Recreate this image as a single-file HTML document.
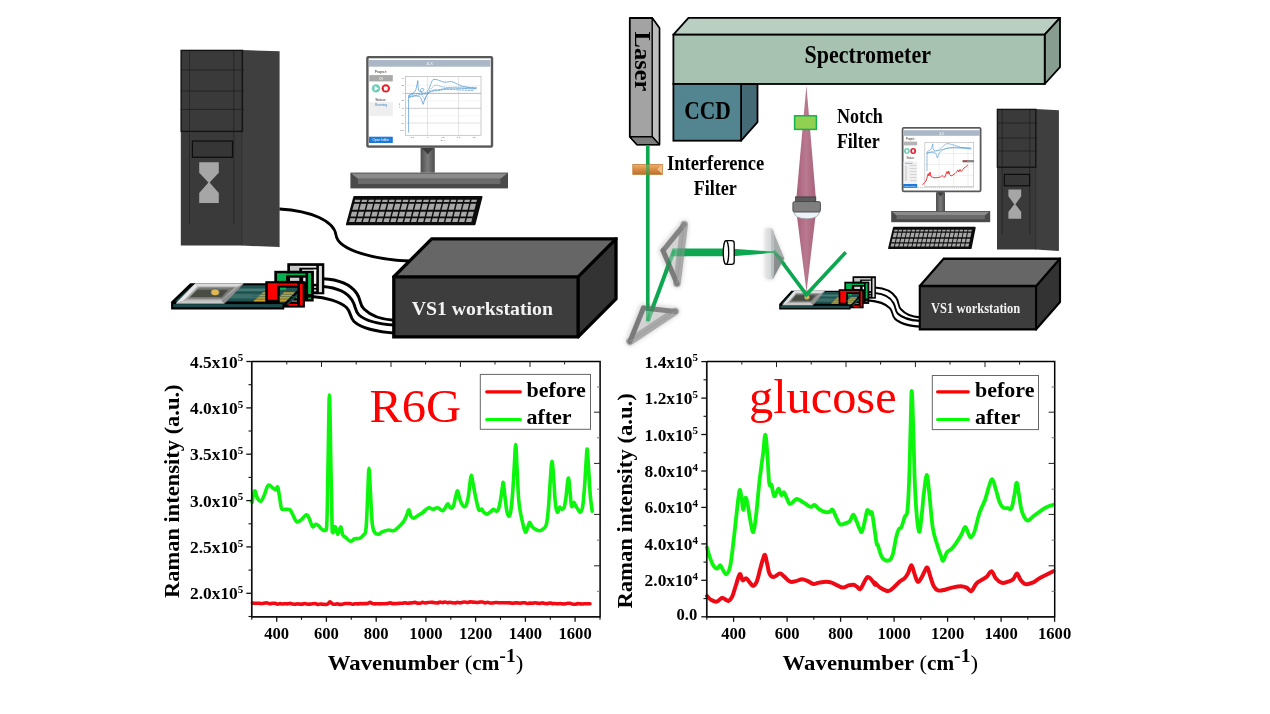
<!DOCTYPE html>
<html lang="en">
<head>
<meta charset="utf-8">
<title>SERS setup and Raman spectra</title>
<style>
html,body{margin:0;padding:0;background:#fff;}
body{width:1270px;height:714px;overflow:hidden;}
svg{display:block;}
text{font-family:"Liberation Serif","Times New Roman",serif;}
.bd{font-weight:bold;fill:#000;}
.tk{font-weight:bold;fill:#000;font-size:16.6px;}
.rg{font-weight:normal;}
.ui{font-family:"Liberation Sans",Arial,sans-serif;}
</style>
</head>
<body>
<svg width="1270" height="714" viewBox="0 0 1270 714">
<rect width="1270" height="714" fill="#ffffff"/>
<!--TOP-->
<defs>
<linearGradient id="gBase" x1="0" y1="0" x2="0" y2="1"><stop offset="0" stop-color="#8a8a8a"/><stop offset="0.45" stop-color="#6e6e6e"/><stop offset="1" stop-color="#4a4a4a"/></linearGradient>
<linearGradient id="gNeck" x1="0" y1="0" x2="1" y2="0"><stop offset="0" stop-color="#4d4d4d"/><stop offset="0.5" stop-color="#7a7a7a"/><stop offset="1" stop-color="#4d4d4d"/></linearGradient>
<linearGradient id="gMir" x1="0" y1="0" x2="1" y2="1"><stop offset="0" stop-color="#8c8c8c"/><stop offset="0.5" stop-color="#c9c9c9"/><stop offset="1" stop-color="#7a7a7a"/></linearGradient>
<linearGradient id="gMir3" x1="0" y1="0" x2="1" y2="0"><stop offset="0" stop-color="#e6e8e8"/><stop offset="0.35" stop-color="#d2d5d5"/><stop offset="1" stop-color="#b0b4b4"/></linearGradient>
<linearGradient id="gOr" x1="0" y1="0" x2="0" y2="1"><stop offset="0" stop-color="#f0b070"/><stop offset="0.5" stop-color="#d98c45"/><stop offset="1" stop-color="#b86f2e"/></linearGradient>
<linearGradient id="gObj" x1="0" y1="0" x2="1" y2="0"><stop offset="0" stop-color="#6a6a6a"/><stop offset="0.5" stop-color="#8f8f8f"/><stop offset="1" stop-color="#5c5c5c"/></linearGradient>
<linearGradient id="gPink" x1="0" y1="0" x2="1" y2="0"><stop offset="0" stop-color="#a9607c"/><stop offset="0.5" stop-color="#b9798f"/><stop offset="1" stop-color="#a9607c"/></linearGradient>
<filter id="blur05" x="-20%" y="-20%" width="140%" height="140%"><feGaussianBlur stdDeviation="0.55"/></filter>
<filter id="blur2" x="-30%" y="-30%" width="160%" height="160%"><feGaussianBlur stdDeviation="2.2"/></filter>
</defs>
<polygon points="180.8,50.0 242.2,50.0 242.2,245.6 180.8,245.6" fill="#3a3a3a"/>
<polygon points="242.2,50.0 279.6,51.3 279.6,247.1 242.2,245.6" fill="#3f3f3f"/>
<line x1="242.2" y1="50.0" x2="242.2" y2="245.6" stroke="#262626" stroke-width="0.9"/>
<line x1="189.5" y1="50.0" x2="189.5" y2="224.2" stroke="#222" stroke-width="0.8"/>
<line x1="233.8" y1="50.0" x2="233.8" y2="224.2" stroke="#222" stroke-width="0.8"/>
<rect x="181.2" y="50.4" width="61.2" height="81.0" fill="none" stroke="#151515" stroke-width="1.4"/>
<line x1="180.8" y1="70.0" x2="244.2" y2="70.0" stroke="#222" stroke-width="0.9"/>
<line x1="180.8" y1="91.0" x2="244.2" y2="91.0" stroke="#222" stroke-width="0.9"/>
<line x1="180.8" y1="109.4" x2="244.2" y2="109.4" stroke="#222" stroke-width="0.9"/>
<rect x="192.4" y="141.0" width="40.1" height="16.3" fill="#363636" stroke="#0d0d0d" stroke-width="1.2"/>
<polygon points="199.2,162.3 218.8,162.3 218.8,172.8 209.6,182.6 218.8,192.9 218.8,202.9 199.2,202.9 199.2,192.9 208.4,182.6 199.2,172.8" fill="#a6a6a6"/>
<polygon points="997.0,109.0 1035.6,109.0 1035.6,249.6 997.0,249.6" fill="#3a3a3a"/>
<polygon points="1035.6,109.0 1058.9,110.3 1058.9,251.1 1035.6,249.6" fill="#3f3f3f"/>
<line x1="1035.6" y1="109.0" x2="1035.6" y2="249.6" stroke="#262626" stroke-width="0.9"/>
<line x1="1002.2" y1="109.0" x2="1002.2" y2="234.4" stroke="#222" stroke-width="0.8"/>
<line x1="1029.8" y1="109.0" x2="1029.8" y2="234.4" stroke="#222" stroke-width="0.8"/>
<rect x="997.4" y="109.4" width="38.4" height="57.8" fill="none" stroke="#151515" stroke-width="1.4"/>
<line x1="997.0" y1="123.0" x2="1037.6" y2="123.0" stroke="#222" stroke-width="0.9"/>
<line x1="997.0" y1="138.0" x2="1037.6" y2="138.0" stroke="#222" stroke-width="0.9"/>
<line x1="997.0" y1="151.0" x2="1037.6" y2="151.0" stroke="#222" stroke-width="0.9"/>
<rect x="1004.4" y="174.4" width="25.2" height="11.4" fill="#363636" stroke="#0d0d0d" stroke-width="1.2"/>
<polygon points="1008.4,189.6 1021.2,189.6 1021.2,196.3 1015.4,204.2 1021.2,212.0 1021.2,218.8 1008.4,218.8 1008.4,212.0 1014.2,204.2 1008.4,196.3" fill="#a6a6a6"/>
<path d="M279.5,209 C312,211 334,221 336,235 C338,251 378,260 410,261" fill="none" stroke="#000" stroke-width="2.8"/>
<rect x="366.2" y="55.9" width="127.0" height="91.9" rx="2.2" fill="#585858"/>
<rect x="368.6" y="58.3" width="122.2" height="87.1" fill="#ffffff"/>
<rect x="420.6" y="147.8" width="14.2" height="24.8" fill="url(#gNeck)"/>
<polygon points="421.6,147.8 433.8,147.8 427.7,154.2" fill="#3c3c3c"/>
<rect x="350.4" y="172.6" width="157.6" height="15.8" fill="#4a4a4a"/>
<polygon points="351.2,173.4 507.2,173.4 500.4,178.8 358.0,178.8" fill="#8b8b8b"/>
<polygon points="358.0,178.8 500.4,178.8 500.4,184.1 358.0,184.1" fill="#6a6a6a"/>
<polygon points="354.2,197.0 481.6,197.0 474.6,224.4 346.8,224.4" fill="#0c0c0c" stroke="#0c0c0c" stroke-width="1.8" stroke-linejoin="round"/>
<polygon points="355.1,199.7 360.5,199.7 359.8,202.1 354.5,202.1" fill="#a6a6a6"/>
<polygon points="362.0,199.7 367.3,199.7 366.7,202.1 361.3,202.1" fill="#a6a6a6"/>
<polygon points="368.9,199.7 374.2,199.7 373.5,202.1 368.2,202.1" fill="#a6a6a6"/>
<polygon points="375.7,199.7 381.1,199.7 380.4,202.1 375.1,202.1" fill="#a6a6a6"/>
<polygon points="382.6,199.7 387.9,199.7 387.3,202.1 381.9,202.1" fill="#a6a6a6"/>
<polygon points="389.4,199.7 394.8,199.7 394.1,202.1 388.8,202.1" fill="#a6a6a6"/>
<polygon points="396.3,199.7 401.6,199.7 401.0,202.1 395.6,202.1" fill="#a6a6a6"/>
<polygon points="403.1,199.7 408.5,199.7 407.8,202.1 402.5,202.1" fill="#a6a6a6"/>
<polygon points="410.0,199.7 415.3,199.7 414.7,202.1 409.3,202.1" fill="#a6a6a6"/>
<polygon points="416.8,199.7 422.2,199.7 421.5,202.1 416.2,202.1" fill="#a6a6a6"/>
<polygon points="423.7,199.7 429.0,199.7 428.4,202.1 423.0,202.1" fill="#a6a6a6"/>
<polygon points="430.5,199.7 435.9,199.7 435.2,202.1 429.9,202.1" fill="#a6a6a6"/>
<polygon points="437.4,199.7 442.7,199.7 442.1,202.1 436.8,202.1" fill="#a6a6a6"/>
<polygon points="444.2,199.7 449.6,199.7 449.0,202.1 443.6,202.1" fill="#a6a6a6"/>
<polygon points="451.1,199.7 456.4,199.7 455.8,202.1 450.5,202.1" fill="#a6a6a6"/>
<polygon points="457.9,199.7 463.3,199.7 462.7,202.1 457.3,202.1" fill="#a6a6a6"/>
<polygon points="464.8,199.7 470.1,199.7 469.5,202.1 464.2,202.1" fill="#a6a6a6"/>
<polygon points="471.7,199.7 477.0,199.7 476.4,202.1 471.0,202.1" fill="#a6a6a6"/>
<polygon points="354.1,203.7 359.4,203.7 357.8,209.7 352.4,209.7" fill="#a6a6a6"/>
<polygon points="360.9,203.7 366.3,203.7 364.7,209.7 359.3,209.7" fill="#a6a6a6"/>
<polygon points="367.8,203.7 373.1,203.7 371.5,209.7 366.2,209.7" fill="#a6a6a6"/>
<polygon points="374.6,203.7 380.0,203.7 378.4,209.7 373.0,209.7" fill="#a6a6a6"/>
<polygon points="381.5,203.7 386.8,203.7 385.2,209.7 379.9,209.7" fill="#a6a6a6"/>
<polygon points="388.3,203.7 393.7,203.7 392.1,209.7 386.8,209.7" fill="#a6a6a6"/>
<polygon points="395.2,203.7 400.5,203.7 399.0,209.7 393.6,209.7" fill="#a6a6a6"/>
<polygon points="402.1,203.7 407.4,203.7 405.8,209.7 400.5,209.7" fill="#a6a6a6"/>
<polygon points="408.9,203.7 414.3,203.7 412.7,209.7 407.3,209.7" fill="#a6a6a6"/>
<polygon points="415.8,203.7 421.1,203.7 419.6,209.7 414.2,209.7" fill="#a6a6a6"/>
<polygon points="422.6,203.7 428.0,203.7 426.4,209.7 421.1,209.7" fill="#a6a6a6"/>
<polygon points="429.5,203.7 434.8,203.7 433.3,209.7 427.9,209.7" fill="#a6a6a6"/>
<polygon points="436.3,203.7 441.7,203.7 440.1,209.7 434.8,209.7" fill="#a6a6a6"/>
<polygon points="443.2,203.7 448.5,203.7 447.0,209.7 441.6,209.7" fill="#a6a6a6"/>
<polygon points="450.0,203.7 455.4,203.7 453.9,209.7 448.5,209.7" fill="#a6a6a6"/>
<polygon points="456.9,203.7 462.3,203.7 460.7,209.7 455.4,209.7" fill="#a6a6a6"/>
<polygon points="463.8,203.7 469.1,203.7 467.6,209.7 462.2,209.7" fill="#a6a6a6"/>
<polygon points="470.6,203.7 476.0,203.7 474.4,209.7 469.1,209.7" fill="#a6a6a6"/>
<polygon points="351.9,211.7 357.2,211.7 356.0,216.4 350.6,216.4" fill="#a6a6a6"/>
<polygon points="358.8,211.7 364.1,211.7 362.9,216.4 357.5,216.4" fill="#a6a6a6"/>
<polygon points="365.6,211.7 371.0,211.7 369.7,216.4 364.4,216.4" fill="#a6a6a6"/>
<polygon points="372.5,211.7 377.8,211.7 376.6,216.4 371.2,216.4" fill="#a6a6a6"/>
<polygon points="379.3,211.7 384.7,211.7 383.5,216.4 378.1,216.4" fill="#a6a6a6"/>
<polygon points="386.2,211.7 391.6,211.7 390.3,216.4 385.0,216.4" fill="#a6a6a6"/>
<polygon points="393.1,211.7 398.4,211.7 397.2,216.4 391.8,216.4" fill="#a6a6a6"/>
<polygon points="399.9,211.7 405.3,211.7 404.1,216.4 398.7,216.4" fill="#a6a6a6"/>
<polygon points="406.8,211.7 412.1,211.7 410.9,216.4 405.6,216.4" fill="#a6a6a6"/>
<polygon points="413.7,211.7 419.0,211.7 417.8,216.4 412.4,216.4" fill="#a6a6a6"/>
<polygon points="420.5,211.7 425.9,211.7 424.7,216.4 419.3,216.4" fill="#a6a6a6"/>
<polygon points="427.4,211.7 432.7,211.7 431.5,216.4 426.2,216.4" fill="#a6a6a6"/>
<polygon points="434.2,211.7 439.6,211.7 438.4,216.4 433.0,216.4" fill="#a6a6a6"/>
<polygon points="441.1,211.7 446.5,211.7 445.3,216.4 439.9,216.4" fill="#a6a6a6"/>
<polygon points="448.0,211.7 453.3,211.7 452.1,216.4 446.8,216.4" fill="#a6a6a6"/>
<polygon points="454.8,211.7 460.2,211.7 459.0,216.4 453.6,216.4" fill="#a6a6a6"/>
<polygon points="461.7,211.7 467.0,211.7 465.9,216.4 460.5,216.4" fill="#a6a6a6"/>
<polygon points="468.6,211.7 473.9,211.7 472.7,216.4 467.4,216.4" fill="#a6a6a6"/>
<polygon points="350.2,218.2 355.5,218.2 354.4,222.1 349.1,222.1" fill="#a6a6a6"/>
<polygon points="357.0,218.2 362.4,218.2 361.3,222.1 356.0,222.1" fill="#a6a6a6"/>
<polygon points="363.9,218.2 369.2,218.2 368.2,222.1 362.8,222.1" fill="#a6a6a6"/>
<polygon points="370.8,218.2 376.1,218.2 375.1,222.1 369.7,222.1" fill="#a6a6a6"/>
<polygon points="377.6,218.2 383.0,218.2 381.9,222.1 376.6,222.1" fill="#a6a6a6"/>
<polygon points="384.5,218.2 389.9,218.2 388.8,222.1 383.4,222.1" fill="#a6a6a6"/>
<polygon points="391.4,218.2 396.7,218.2 395.7,222.1 390.3,222.1" fill="#a6a6a6"/>
<polygon points="398.2,218.2 403.6,218.2 402.5,222.1 397.2,222.1" fill="#a6a6a6"/>
<polygon points="405.1,218.2 410.5,218.2 409.4,222.1 404.1,222.1" fill="#a6a6a6"/>
<polygon points="412.0,218.2 417.3,218.2 416.3,222.1 410.9,222.1" fill="#a6a6a6"/>
<polygon points="418.8,218.2 424.2,218.2 423.2,222.1 417.8,222.1" fill="#a6a6a6"/>
<polygon points="425.7,218.2 431.1,218.2 430.0,222.1 424.7,222.1" fill="#a6a6a6"/>
<polygon points="432.6,218.2 437.9,218.2 436.9,222.1 431.5,222.1" fill="#a6a6a6"/>
<polygon points="439.4,218.2 444.8,218.2 443.8,222.1 438.4,222.1" fill="#a6a6a6"/>
<polygon points="446.3,218.2 451.7,218.2 450.6,222.1 445.3,222.1" fill="#a6a6a6"/>
<polygon points="453.2,218.2 458.5,218.2 457.5,222.1 452.2,222.1" fill="#a6a6a6"/>
<polygon points="460.0,218.2 465.4,218.2 464.4,222.1 459.0,222.1" fill="#a6a6a6"/>
<polygon points="466.9,218.2 472.3,218.2 471.3,222.1 465.9,222.1" fill="#a6a6a6"/>
<rect x="901.7" y="126.9" width="79.8" height="65.4" rx="2.2" fill="#585858"/>
<rect x="903.5" y="128.7" width="76.2" height="61.8" fill="#ffffff"/>
<rect x="936.0" y="192.3" width="9.0" height="18.7" fill="url(#gNeck)"/>
<polygon points="937.0,192.3 944.0,192.3 940.5,196.4" fill="#3c3c3c"/>
<rect x="891.2" y="211.0" width="99.0" height="11.2" fill="#4a4a4a"/>
<polygon points="892.0,211.8 989.4,211.8 984.8,215.4 896.6,215.4" fill="#8b8b8b"/>
<polygon points="896.6,215.4 984.8,215.4 984.8,219.2 896.6,219.2" fill="#6a6a6a"/>
<polygon points="893.9,227.7 974.8,227.7 970.7,248.2 889.0,248.2" fill="#0c0c0c" stroke="#0c0c0c" stroke-width="1.8" stroke-linejoin="round"/>
<polygon points="894.5,229.7 897.9,229.7 897.4,231.5 894.0,231.5" fill="#a6a6a6"/>
<polygon points="898.8,229.7 902.2,229.7 901.8,231.5 898.4,231.5" fill="#a6a6a6"/>
<polygon points="903.2,229.7 906.6,229.7 906.2,231.5 902.8,231.5" fill="#a6a6a6"/>
<polygon points="907.5,229.7 910.9,229.7 910.5,231.5 907.1,231.5" fill="#a6a6a6"/>
<polygon points="911.9,229.7 915.3,229.7 914.9,231.5 911.5,231.5" fill="#a6a6a6"/>
<polygon points="916.3,229.7 919.7,229.7 919.2,231.5 915.8,231.5" fill="#a6a6a6"/>
<polygon points="920.6,229.7 924.0,229.7 923.6,231.5 920.2,231.5" fill="#a6a6a6"/>
<polygon points="925.0,229.7 928.4,229.7 928.0,231.5 924.6,231.5" fill="#a6a6a6"/>
<polygon points="929.3,229.7 932.7,229.7 932.3,231.5 928.9,231.5" fill="#a6a6a6"/>
<polygon points="933.7,229.7 937.1,229.7 936.7,231.5 933.3,231.5" fill="#a6a6a6"/>
<polygon points="938.0,229.7 941.4,229.7 941.0,231.5 937.6,231.5" fill="#a6a6a6"/>
<polygon points="942.4,229.7 945.8,229.7 945.4,231.5 942.0,231.5" fill="#a6a6a6"/>
<polygon points="946.7,229.7 950.1,229.7 949.8,231.5 946.4,231.5" fill="#a6a6a6"/>
<polygon points="951.1,229.7 954.5,229.7 954.1,231.5 950.7,231.5" fill="#a6a6a6"/>
<polygon points="955.5,229.7 958.8,229.7 958.5,231.5 955.1,231.5" fill="#a6a6a6"/>
<polygon points="959.8,229.7 963.2,229.7 962.8,231.5 959.4,231.5" fill="#a6a6a6"/>
<polygon points="964.2,229.7 967.6,229.7 967.2,231.5 963.8,231.5" fill="#a6a6a6"/>
<polygon points="968.5,229.7 971.9,229.7 971.5,231.5 968.1,231.5" fill="#a6a6a6"/>
<polygon points="893.8,232.7 897.2,232.7 896.1,237.2 892.7,237.2" fill="#a6a6a6"/>
<polygon points="898.1,232.7 901.5,232.7 900.5,237.2 897.1,237.2" fill="#a6a6a6"/>
<polygon points="902.5,232.7 905.9,232.7 904.8,237.2 901.4,237.2" fill="#a6a6a6"/>
<polygon points="906.8,232.7 910.2,232.7 909.2,237.2 905.8,237.2" fill="#a6a6a6"/>
<polygon points="911.2,232.7 914.6,232.7 913.6,237.2 910.2,237.2" fill="#a6a6a6"/>
<polygon points="915.6,232.7 919.0,232.7 918.0,237.2 914.6,237.2" fill="#a6a6a6"/>
<polygon points="919.9,232.7 923.3,232.7 922.3,237.2 918.9,237.2" fill="#a6a6a6"/>
<polygon points="924.3,232.7 927.7,232.7 926.7,237.2 923.3,237.2" fill="#a6a6a6"/>
<polygon points="928.6,232.7 932.1,232.7 931.1,237.2 927.7,237.2" fill="#a6a6a6"/>
<polygon points="933.0,232.7 936.4,232.7 935.4,237.2 932.0,237.2" fill="#a6a6a6"/>
<polygon points="937.4,232.7 940.8,232.7 939.8,237.2 936.4,237.2" fill="#a6a6a6"/>
<polygon points="941.7,232.7 945.1,232.7 944.2,237.2 940.8,237.2" fill="#a6a6a6"/>
<polygon points="946.1,232.7 949.5,232.7 948.6,237.2 945.1,237.2" fill="#a6a6a6"/>
<polygon points="950.5,232.7 953.9,232.7 952.9,237.2 949.5,237.2" fill="#a6a6a6"/>
<polygon points="954.8,232.7 958.2,232.7 957.3,237.2 953.9,237.2" fill="#a6a6a6"/>
<polygon points="959.2,232.7 962.6,232.7 961.7,237.2 958.3,237.2" fill="#a6a6a6"/>
<polygon points="963.5,232.7 966.9,232.7 966.0,237.2 962.6,237.2" fill="#a6a6a6"/>
<polygon points="967.9,232.7 971.3,232.7 970.4,237.2 967.0,237.2" fill="#a6a6a6"/>
<polygon points="892.3,238.7 895.7,238.7 894.9,242.2 891.5,242.2" fill="#a6a6a6"/>
<polygon points="896.7,238.7 900.1,238.7 899.3,242.2 895.9,242.2" fill="#a6a6a6"/>
<polygon points="901.1,238.7 904.5,238.7 903.7,242.2 900.3,242.2" fill="#a6a6a6"/>
<polygon points="905.4,238.7 908.9,238.7 908.1,242.2 904.6,242.2" fill="#a6a6a6"/>
<polygon points="909.8,238.7 913.2,238.7 912.4,242.2 909.0,242.2" fill="#a6a6a6"/>
<polygon points="914.2,238.7 917.6,238.7 916.8,242.2 913.4,242.2" fill="#a6a6a6"/>
<polygon points="918.6,238.7 922.0,238.7 921.2,242.2 917.8,242.2" fill="#a6a6a6"/>
<polygon points="922.9,238.7 926.4,238.7 925.6,242.2 922.2,242.2" fill="#a6a6a6"/>
<polygon points="927.3,238.7 930.7,238.7 930.0,242.2 926.5,242.2" fill="#a6a6a6"/>
<polygon points="931.7,238.7 935.1,238.7 934.3,242.2 930.9,242.2" fill="#a6a6a6"/>
<polygon points="936.1,238.7 939.5,238.7 938.7,242.2 935.3,242.2" fill="#a6a6a6"/>
<polygon points="940.4,238.7 943.9,238.7 943.1,242.2 939.7,242.2" fill="#a6a6a6"/>
<polygon points="944.8,238.7 948.2,238.7 947.5,242.2 944.1,242.2" fill="#a6a6a6"/>
<polygon points="949.2,238.7 952.6,238.7 951.9,242.2 948.5,242.2" fill="#a6a6a6"/>
<polygon points="953.6,238.7 957.0,238.7 956.3,242.2 952.8,242.2" fill="#a6a6a6"/>
<polygon points="957.9,238.7 961.3,238.7 960.6,242.2 957.2,242.2" fill="#a6a6a6"/>
<polygon points="962.3,238.7 965.7,238.7 965.0,242.2 961.6,242.2" fill="#a6a6a6"/>
<polygon points="966.7,238.7 970.1,238.7 969.4,242.2 966.0,242.2" fill="#a6a6a6"/>
<polygon points="891.2,243.5 894.6,243.5 893.9,246.5 890.5,246.5" fill="#a6a6a6"/>
<polygon points="895.6,243.5 899.0,243.5 898.3,246.5 894.9,246.5" fill="#a6a6a6"/>
<polygon points="900.0,243.5 903.4,243.5 902.7,246.5 899.3,246.5" fill="#a6a6a6"/>
<polygon points="904.3,243.5 907.8,243.5 907.1,246.5 903.6,246.5" fill="#a6a6a6"/>
<polygon points="908.7,243.5 912.1,243.5 911.5,246.5 908.0,246.5" fill="#a6a6a6"/>
<polygon points="913.1,243.5 916.5,243.5 915.8,246.5 912.4,246.5" fill="#a6a6a6"/>
<polygon points="917.5,243.5 920.9,243.5 920.2,246.5 916.8,246.5" fill="#a6a6a6"/>
<polygon points="921.9,243.5 925.3,243.5 924.6,246.5 921.2,246.5" fill="#a6a6a6"/>
<polygon points="926.3,243.5 929.7,243.5 929.0,246.5 925.6,246.5" fill="#a6a6a6"/>
<polygon points="930.6,243.5 934.1,243.5 933.4,246.5 930.0,246.5" fill="#a6a6a6"/>
<polygon points="935.0,243.5 938.4,243.5 937.8,246.5 934.4,246.5" fill="#a6a6a6"/>
<polygon points="939.4,243.5 942.8,243.5 942.2,246.5 938.8,246.5" fill="#a6a6a6"/>
<polygon points="943.8,243.5 947.2,243.5 946.6,246.5 943.2,246.5" fill="#a6a6a6"/>
<polygon points="948.2,243.5 951.6,243.5 951.0,246.5 947.5,246.5" fill="#a6a6a6"/>
<polygon points="952.6,243.5 956.0,243.5 955.4,246.5 951.9,246.5" fill="#a6a6a6"/>
<polygon points="956.9,243.5 960.4,243.5 959.7,246.5 956.3,246.5" fill="#a6a6a6"/>
<polygon points="961.3,243.5 964.7,243.5 964.1,246.5 960.7,246.5" fill="#a6a6a6"/>
<polygon points="965.7,243.5 969.1,243.5 968.5,246.5 965.1,246.5" fill="#a6a6a6"/>
<g class="ui">
<rect x="369" y="60" width="121.3" height="6.7" fill="#a9b7c7"/>
<text x="429.6" y="65.3" text-anchor="middle" font-size="4" fill="#fff" class="ui">JLX</text>
<text x="380.8" y="72.9" text-anchor="middle" font-size="3.6" fill="#222" class="ui">Project:</text>
<rect x="369.3" y="75.1" width="23.5" height="6.3" fill="#a9a9a9"/>
<text x="381" y="79.8" text-anchor="middle" font-size="3" fill="#fff" class="ui">CV</text>
<circle cx="376" cy="88.4" r="4.2" fill="#6fcfb6"/><polygon points="374.6,86 374.6,90.8 378.6,88.4" fill="#fff"/>
<circle cx="385.8" cy="88.4" r="4.2" fill="#e3212d"/><rect x="383.9" y="86.4" width="3.8" height="4" rx="0.9" fill="#fff"/>
<text x="380.8" y="100.5" text-anchor="middle" font-size="3.6" fill="#222" class="ui">Status:</text>
<rect x="369.3" y="102" width="23.5" height="14" fill="#efefef"/>
<text x="381" y="106.4" text-anchor="middle" font-size="3.2" fill="#2f7fc0" class="ui">Running</text>
<rect x="369" y="136.7" width="23.8" height="6.3" fill="#1e7ad9"/>
<text x="380.9" y="141.2" text-anchor="middle" font-size="3.2" fill="#fff" class="ui">Open folder</text>
<rect x="405.4" y="76.5" width="75.6" height="58.8" fill="#fff" stroke="#b5b5b5" stroke-width="0.7"/>
<line x1="427.5" y1="76.5" x2="427.5" y2="135.3" stroke="#d0d0d0" stroke-width="0.6"/>
<line x1="458.6" y1="76.5" x2="458.6" y2="135.3" stroke="#d0d0d0" stroke-width="0.6"/>
<line x1="405.4" y1="85.6" x2="481" y2="85.6" stroke="#ececec" stroke-width="0.6"/>
<line x1="405.4" y1="93.4" x2="481" y2="93.4" stroke="#8a8a8a" stroke-width="0.6"/>
<line x1="405.4" y1="100.8" x2="481" y2="100.8" stroke="#ececec" stroke-width="0.6"/>
<line x1="405.4" y1="108.3" x2="481" y2="108.3" stroke="#a8a8a8" stroke-width="0.6"/>
<line x1="405.4" y1="115.9" x2="481" y2="115.9" stroke="#ececec" stroke-width="0.6"/>
<line x1="405.4" y1="123.0" x2="481" y2="123.0" stroke="#cfcfcf" stroke-width="0.6"/>
<path d="M408.6,132.6 V95.5 C410,94.6 413,93.6 415,91.5 C416.6,89 417.2,83 417.8,80.6 C418.2,84 417.8,87.6 418.6,90 C419.6,92.6 422,92 423.6,90.4 C424.6,89 423,88 421.4,88.6 C419.8,89.6 420.2,92 422.4,93 C425,94 427,92 428.6,89.6 C430.4,86 431.4,79.6 434,79.3 C438,79.2 441,81.6 444,82.2 C447,82.4 449,81.4 451.4,81.6 C455,82.4 458,84.6 461,85.8 C467,87.4 472,88 477,88.2" fill="none" stroke="#4c93cc" stroke-width="0.7"/>
<path d="M408.6,96.8 C412,95.8 416,95.6 419.4,96.4 C421.6,97.6 422.4,103.4 423.3,104.3 C424.2,100.4 425.6,96 428.4,93 C431,90.6 434,89.4 437.5,90 C441,89.4 444,88.6 448,88.2 C456,88 466,88.6 476,88.8" fill="none" stroke="#4c93cc" stroke-width="0.7"/>
<path d="M409,97.6 C413,96 417,95 421,94.6 C425,94.2 428,93 431,91.6 C435,90.4 440,90.6 444,89.6 C452,89 462,90.4 474,90.4" fill="none" stroke="#4c93cc" stroke-width="0.7" stroke-dasharray="2.4 0.6"/>
<path d="M409,95.6 C413,94 417,93.2 420,93.6 C423,95.4 424.4,100.4 425,99.6 C426,96.4 428,92.4 431,88.6 C433,86.4 435,84.6 437,85.2 C441,86.6 444,87.4 448,87.4 C456,87 466,87.2 477,87.4" fill="none" stroke="#4c93cc" stroke-width="0.6" stroke-dasharray="1.8 0.6"/>
<text x="404" y="78.8" text-anchor="end" font-size="2.2" fill="#555" class="ui">40</text>
<text x="404" y="86.4" text-anchor="end" font-size="2.2" fill="#555" class="ui">20</text>
<text x="404" y="94.1" text-anchor="end" font-size="2.2" fill="#555" class="ui">0</text>
<text x="404" y="101.4" text-anchor="end" font-size="2.2" fill="#555" class="ui">-20</text>
<text x="404" y="108.8" text-anchor="end" font-size="2.2" fill="#555" class="ui">-40</text>
<text x="404" y="116.1" text-anchor="end" font-size="2.2" fill="#555" class="ui">-60</text>
<text x="404" y="123.5" text-anchor="end" font-size="2.2" fill="#555" class="ui">-80</text>
<text x="404" y="131.3" text-anchor="end" font-size="2.2" fill="#555" class="ui">-100</text>
<text x="412.0" y="138.2" text-anchor="middle" font-size="2.2" fill="#555" class="ui">-0.5</text>
<text x="427.5" y="138.2" text-anchor="middle" font-size="2.2" fill="#555" class="ui">0</text>
<text x="443.0" y="138.2" text-anchor="middle" font-size="2.2" fill="#555" class="ui">0.5</text>
<text x="458.6" y="138.2" text-anchor="middle" font-size="2.2" fill="#555" class="ui">1.0</text>
<text x="474.0" y="138.2" text-anchor="middle" font-size="2.2" fill="#555" class="ui">1.5</text>
<text x="443" y="141" text-anchor="middle" font-size="2.2" fill="#555" class="ui">E / V</text>
<text transform="translate(399.5,105.5) rotate(-90)" text-anchor="middle" font-size="2.2" fill="#555" class="ui">I / µA</text>
</g>
<g class="ui">
<rect x="903.2" y="130.2" width="76.6" height="5.6" fill="#a9b7c7"/>
<text x="941.5" y="134.6" text-anchor="middle" font-size="3" fill="#fff" class="ui">JLX</text>
<text x="910.5" y="140.3" text-anchor="middle" font-size="2.6" fill="#222" class="ui">Project:</text>
<rect x="903.6" y="141.6" width="13.6" height="3.8" fill="#b4b4b4"/>
<circle cx="906.9" cy="151" r="2.9" fill="#6fcfb6"/><ellipse cx="906.9" cy="151" rx="1.1" ry="1.7" fill="#fff"/>
<circle cx="913.2" cy="151" r="2.9" fill="#e3212d"/><ellipse cx="913.2" cy="151" rx="1.1" ry="1.7" fill="#fff"/>
<text x="910.5" y="158.9" text-anchor="middle" font-size="2.6" fill="#222" class="ui">Status:</text>
<rect x="903.6" y="161.6" width="13.6" height="22.4" fill="#f0f0f0"/>
<rect x="904.6" y="161.6" width="8" height="2.2" fill="#dfe6ee"/>
<text x="908.7" y="163.5" text-anchor="middle" font-size="2" fill="#2f7fc0" class="ui">Running</text>
<line x1="910" y1="165.5" x2="916.5" y2="165.5" stroke="#aaa" stroke-width="0.4"/>
<line x1="910" y1="168.5" x2="916.5" y2="168.5" stroke="#aaa" stroke-width="0.4"/>
<line x1="910" y1="171.5" x2="916.5" y2="171.5" stroke="#aaa" stroke-width="0.4"/>
<line x1="910" y1="174.5" x2="916.5" y2="174.5" stroke="#aaa" stroke-width="0.4"/>
<line x1="910" y1="177.5" x2="916.5" y2="177.5" stroke="#aaa" stroke-width="0.4"/>
<line x1="910" y1="180.5" x2="916.5" y2="180.5" stroke="#aaa" stroke-width="0.4"/>
<line x1="906" y1="166" x2="906" y2="181" stroke="#999" stroke-width="0.5"/>
<rect x="903.2" y="184" width="14" height="3.9" fill="#1e7ad9"/>
<text x="910.2" y="187" text-anchor="middle" font-size="2.2" fill="#fff" class="ui">Open folder</text>
<rect x="924.8" y="142.6" width="48.9" height="43.7" fill="#fff" stroke="#b5b5b5" stroke-width="0.6"/>
<line x1="939.0" y1="142.6" x2="939.0" y2="186.3" stroke="#dcdcdc" stroke-width="0.5"/>
<line x1="953.5" y1="142.6" x2="953.5" y2="186.3" stroke="#dcdcdc" stroke-width="0.5"/>
<line x1="968.0" y1="142.6" x2="968.0" y2="186.3" stroke="#dcdcdc" stroke-width="0.5"/>
<line x1="924.8" y1="153.5" x2="973.7" y2="153.5" stroke="#dcdcdc" stroke-width="0.5"/>
<line x1="924.8" y1="164.4" x2="973.7" y2="164.4" stroke="#dcdcdc" stroke-width="0.5"/>
<line x1="924.8" y1="175.3" x2="973.7" y2="175.3" stroke="#dcdcdc" stroke-width="0.5"/>
<path d="M927,171 V152 C928,151 930,150.5 931,149 C932.5,146.5 932.3,144.5 932.8,143.8 C933,146 932.6,148.5 933.6,150 C935,152 937,150.5 939.5,150 C943,147 944.5,143.5 948,143.6 C953,144.5 956,145.8 961,147.5 C965,148.3 968,148.6 971.5,148.8" fill="none" stroke="#4c93cc" stroke-width="0.6"/>
<path d="M927,153 C930,152 933,152 935.5,153 C936.8,154.5 936.8,157.8 937.5,158 C938.2,154.5 939.5,152 942.5,150 C946,148 950,147.6 954,147.4 C960,147.4 966,147.6 971,148" fill="none" stroke="#4c93cc" stroke-width="0.6"/>
<path d="M927,153.5 C931,151.5 934,151 937,150.5 C941,150 945,149 948,148.3 C955,147.8 963,148.6 971,148.8" fill="none" stroke="#4c93cc" stroke-width="0.5" stroke-dasharray="1.6 0.6"/>
<polyline points="922.6,184.8 924.5,182.5 926,181 927.2,177 928.2,173.5 929,176 930,172 931,176.5 932.5,177.2 935,177.8 938,177.5 940.5,177 942,175.5 943.5,176.8 945,177.2 946,174 947,171.5 948,174 948.8,171 949.6,174.5 951,176 953,175 955,173.5 956.5,172 957.8,170 958.8,172 960,169.5 961.2,171.5 962.5,170 964,168 965.5,167 967.8,165" fill="none" stroke="#f2242c" stroke-width="0.9" stroke-linejoin="round"/>
<rect x="962.5" y="160" width="11.6" height="2.4" fill="#8a8a8a"/><rect x="962.9" y="160.6" width="4.2" height="1.2" fill="#e3212d"/>
<line x1="918" y1="187.6" x2="974" y2="187.6" stroke="#999" stroke-width="0.6" stroke-dasharray="1.2 0.9"/>
</g>
<defs><g id="rig">
<path d="M323,278.8 C338,279.5 350,284 356.5,293 C361.5,300 359,304.5 364,309 C371,316 382,319.5 394,320.2" fill="none" stroke="#000" stroke-width="3"/>
<path d="M323,286.4 C336,287.5 347,292 352,300 C356.5,307 354.5,311 359,315 C366,321 380,324.2 394,325" fill="none" stroke="#000" stroke-width="3"/>
<path d="M312,296.6 C326,297.5 340,301.5 346.5,307.5 C351.5,312.5 349.5,317 354,321.5 C361,328 378,332.2 397,333.2" fill="none" stroke="#000" stroke-width="3"/>
<polygon points="393.8,276.8 431.7,238.9 616.0,238.9 578.1,276.8" fill="#666666"/>
<polygon points="578.1,276.8 616.0,238.9 616.0,298.9 578.1,336.8" fill="#333333"/>
<rect x="393.8" y="276.8" width="184.3" height="60.0" fill="#3d3d3d"/>
<polygon points="393.8,336.8 393.8,276.8 431.7,238.9 616.0,238.9 616.0,298.9 578.1,336.8" fill="none" stroke="#000" stroke-width="3.3" stroke-linejoin="miter"/>
<path d="M393.8,276.8 H578.1 V336.8 M578.1,276.8 L616.0,238.9" fill="none" stroke="#000" stroke-width="3.3" stroke-linecap="round"/>
<text x="411.7" y="314.8" font-size="19.5" font-weight="bold" fill="#f2f2f2" textLength="141.3" lengthAdjust="spacingAndGlyphs">VS1 workstation</text>
<rect x="287.3" y="263.2" width="37" height="31.1" fill="#000"/>
<rect x="290" y="265.9" width="26.3" height="1.8" fill="#e4e4e4"/>
<rect x="290" y="265.9" width="9.3" height="5" fill="#c6c6c6"/>
<rect x="318.9" y="265.9" width="3" height="26.3" fill="#dedede"/>
<rect x="302" y="269.6" width="14.3" height="1.4" fill="#f4f4f4"/>
<rect x="313.7" y="269.6" width="2.6" height="14.2" fill="#f4f4f4"/>
<rect x="313.9" y="286.3" width="2.3" height="1.6" fill="#dcdcdc"/>
<rect x="313.9" y="289.6" width="2.3" height="1.8" fill="#dcdcdc"/>
<rect x="274.3" y="270.8" width="39.4" height="30.7" fill="#000"/>
<rect x="277.1" y="273.5" width="28.4" height="1.8" fill="#08b050"/>
<rect x="277.1" y="273.5" width="9" height="7.4" fill="#08b050"/>
<rect x="308.1" y="273" width="3" height="21.1" fill="#08b050"/>
<rect x="308.1" y="297.5" width="3" height="1.5" fill="#08b050"/>
<rect x="290" y="277.7" width="9.3" height="3.2" fill="#d0d0d0"/>
<rect x="303.2" y="277.7" width="2.3" height="4" fill="#f0f0f0"/>
<polygon points="190.2,283.2 301,283.2 284.2,302.6 284.2,309.4 171.1,309.4 171.1,301.8" fill="#000"/>
<polygon points="192.6,285.2 297.6,285.2 283.2,301.4 175,301.4" fill="#1f5251"/>
<polygon points="238,288.6 294.6,288.6 292.4,291.2 235.5,291.2" fill="#467a74"/>
<polygon points="233,293.8 290,293.8 285.8,298.6 228.6,298.6" fill="#3b6f6a"/>
<rect x="173.2" y="304.1" width="109.2" height="3.2" fill="#1c4a4a"/>
<polygon points="263,292.2 295,292.2 286,301.4 253.3,301.4" fill="#c9a030"/>
<line x1="252" y1="294.3" x2="296" y2="294.3" stroke="#2b5e5a" stroke-width="0.7"/>
<line x1="252" y1="296.7" x2="296" y2="296.7" stroke="#2b5e5a" stroke-width="0.7"/>
<line x1="252" y1="299.1" x2="296" y2="299.1" stroke="#2b5e5a" stroke-width="0.7"/>
<polygon points="195.3,283.4 243.8,283.4 224.3,303.4 175.8,303.4" fill="#a9a9a9"/>
<polygon points="195.3,283.4 243.8,283.4 238.6,286.4 197.4,286.4" fill="#dcdcdc"/>
<polygon points="195.3,283.4 197.4,286.4 183.5,300.4 175.8,303.4" fill="#e6e6e6"/>
<polygon points="183.5,300.4 221.5,300.4 224.3,303.4 175.8,303.4" fill="#c8c8c8"/>
<polygon points="243.8,283.4 238.6,286.4 221.5,300.4 224.3,303.4" fill="#8c8c8c"/>
<polygon points="198.6,287.6 234.6,287.6 222.4,298.8 187.6,298.8" fill="#767876"/>
<polygon points="197.5,289.7 228.2,289.7 221.7,297 190.1,297" fill="#494c42"/>
<ellipse cx="215.1" cy="292.3" rx="4.2" ry="3.3" fill="#e2b650" stroke="#2c5c78" stroke-width="0.6"/>
<rect x="265.3" y="281.2" width="39.6" height="26.4" fill="#000"/>
<polygon points="279.8,287.8 297.4,287.8 297.4,290 284.6,302.8 279.8,302.8" fill="#1f5251"/>
<polygon points="284,292.2 295,292.2 285.6,301.6 279.8,301.6 279.8,296.4" fill="#c9a030"/>
<line x1="279.8" y1="294.3" x2="294" y2="294.3" stroke="#2b5e5a" stroke-width="0.7"/>
<line x1="279.8" y1="296.7" x2="294" y2="296.7" stroke="#2b5e5a" stroke-width="0.7"/>
<line x1="279.8" y1="299.1" x2="294" y2="299.1" stroke="#2b5e5a" stroke-width="0.7"/>
<rect x="280" y="287.7" width="6.1" height="2.1" fill="#08b050"/>
<polygon points="286.2,304.4 297.4,293.2 297.4,295.6 288.6,304.4" fill="#1c4a4a"/>
<rect x="292" y="300.6" width="5" height="1.1" fill="#9a9a9a"/>
<rect x="295.6" y="296.6" width="1.4" height="1.6" fill="#08b050"/>
<rect x="288.5" y="303.9" width="8.9" height="1.8" fill="#ff0000"/>
<rect x="267.9" y="283.5" width="29.5" height="1.9" fill="#ff0000"/>
<rect x="267.9" y="283.5" width="9.2" height="16.3" fill="#ff0000"/>
<rect x="300" y="283.8" width="2.7" height="21.6" fill="#ff0000"/>
<rect x="264" y="304.1" width="18.4" height="3.2" fill="#1c4a4a"/>
</g></defs>
<use href="#rig"/>
<use href="#rig" transform="translate(671.20,86.21) scale(0.6312,0.722)"/>
<polygon points="629.8,18 652.2,18 659.4,28 659.4,144.6 637,144.6 629.8,136.7" fill="#a3a3a3" stroke="#000" stroke-width="1.8" stroke-linejoin="round"/>
<polygon points="652.2,18 659.4,28 659.4,144.6 652.2,136.7" fill="#bdbdbd" stroke="#000" stroke-width="1.4" stroke-linejoin="round"/>
<polygon points="629.8,136.7 652.2,136.7 659.4,144.6 637,144.6" fill="#7c7c7c" stroke="#000" stroke-width="1.4" stroke-linejoin="round"/>
<text transform="translate(634.7,31.6) rotate(90)" font-size="23" class="bd" fill="#111" textLength="59.8" lengthAdjust="spacingAndGlyphs">Laser</text>
<line x1="647.8" y1="145" x2="647.8" y2="321" stroke="#0ca750" stroke-width="3.6"/>
<rect x="632.8" y="164.4" width="29.6" height="10" fill="url(#gOr)" stroke="#c27c38" stroke-width="0.8"/>
<polygon points="662.2,164.5 662.2,174.1 657.2,169.3" fill="#f2c08a"/>
<line x1="647.8" y1="163" x2="647.8" y2="176" stroke="#0ca750" stroke-width="3.6" opacity="0.55"/>
<text x="667" y="170" font-size="21" class="bd" textLength="97.2" lengthAdjust="spacingAndGlyphs">Interference</text>
<text x="693.7" y="195.4" font-size="21" class="bd" textLength="43.2" lengthAdjust="spacingAndGlyphs">Filter</text>
<polygon points="673.4,34.7 688.5,17.9 1060,17.9 1044.7,34.7" fill="#b9cfc2" stroke="#000" stroke-width="1.8" stroke-linejoin="round"/>
<polygon points="1044.7,34.7 1060,17.9 1060,67.2 1044.7,84" fill="#879d90" stroke="#000" stroke-width="1.8" stroke-linejoin="round"/>
<rect x="673.4" y="34.7" width="371.3" height="49.3" fill="#a8c2b2" stroke="#000" stroke-width="1.8"/>
<text x="804.5" y="62.8" font-size="24.8" class="bd" fill="#111" textLength="126.4" lengthAdjust="spacingAndGlyphs">Spectrometer</text>
<polygon points="741.1,84 757.5,84 757.5,122.1 741.1,140.7" fill="#436a75" stroke="#000" stroke-width="1.8" stroke-linejoin="round"/>
<rect x="673.4" y="84" width="67.7" height="56.7" fill="#528590" stroke="#000" stroke-width="1.8"/>
<text x="684.3" y="119.1" font-size="24.2" class="bd" fill="#080808" textLength="46.5" lengthAdjust="spacingAndGlyphs">CCD</text>
<polygon points="806.4,85.5 816,200 815.3,218 806.5,292 797.2,218 796.2,200" fill="url(#gPink)"/>
<rect x="794.6" y="115.8" width="21.8" height="13.6" fill="#92d050" stroke="#13b24f" stroke-width="1.5"/>
<text x="836.9" y="122.9" font-size="20.5" class="bd" textLength="46" lengthAdjust="spacingAndGlyphs">Notch</text>
<text x="836.9" y="147.7" font-size="20.5" class="bd" textLength="42.8" lengthAdjust="spacingAndGlyphs">Filter</text>
<path d="M793.6,211.5 Q794.5,218.8 806.6,218.8 Q818.8,218.8 819.6,211.5 Z" fill="#ecf3f8" stroke="#8f979c" stroke-width="0.7"/>
<rect x="795.6" y="196.9" width="20.2" height="5.4" fill="#5b5b5b" stroke="#3c3c3c" stroke-width="0.8"/>
<rect x="792.9" y="201.6" width="27.5" height="10.4" rx="1.6" fill="#7f7f7f" stroke="#454545" stroke-width="0.9"/>
<line x1="647.8" y1="321" x2="674" y2="250.2" stroke="#0ca750" stroke-width="4" stroke-linecap="round"/>
<polygon points="672.5,248.6 724,248.6 724,256.3 671,256.3" fill="#0ca750"/>
<polygon points="733,248.8 774.5,251.6 774.5,252.8 733,256.2" fill="#0ca750"/>
<polyline points="773.6,250.6 806.4,294.6 845.8,252.2" fill="none" stroke="#0ca750" stroke-width="3.6" stroke-linejoin="miter" stroke-linecap="butt"/>
<polygon points="643.4,308.0 675.2,311.4 630.0,341.4" fill="#808080" stroke="#808080" stroke-width="9" stroke-linejoin="round" opacity="0.3" filter="url(#blur2)"/>
<g opacity="0.8" filter="url(#blur05)">
<polygon points="643.4,308.0 675.2,311.4 630.0,341.4" fill="#d2d2d2"/>
<line x1="675.2" y1="311.4" x2="630.0" y2="341.4" stroke="#9e9e9e" stroke-width="7.6" stroke-linecap="round"/>
<line x1="643.4" y1="308.0" x2="675.2" y2="311.4" stroke="#6e6e6e" stroke-width="5" stroke-linecap="round"/>
<line x1="643.4" y1="308.0" x2="630.0" y2="341.4" stroke="#646464" stroke-width="5" stroke-linecap="round"/>
<line x1="675.2" y1="311.4" x2="630.0" y2="341.4" stroke="#8e8e8e" stroke-width="0.9"/>
</g>
<polygon points="663.0,250.6 684.2,224.6 677.0,283.4" fill="#808080" stroke="#808080" stroke-width="9" stroke-linejoin="round" opacity="0.3" filter="url(#blur2)"/>
<g opacity="0.8" filter="url(#blur05)">
<polygon points="663.0,250.6 684.2,224.6 677.0,283.4" fill="#d2d2d2"/>
<line x1="684.2" y1="224.6" x2="677.0" y2="283.4" stroke="#9e9e9e" stroke-width="7.6" stroke-linecap="round"/>
<line x1="663.0" y1="250.6" x2="684.2" y2="224.6" stroke="#6e6e6e" stroke-width="5" stroke-linecap="round"/>
<line x1="663.0" y1="250.6" x2="677.0" y2="283.4" stroke="#646464" stroke-width="5" stroke-linecap="round"/>
<line x1="684.2" y1="224.6" x2="677.0" y2="283.4" stroke="#8e8e8e" stroke-width="0.9"/>
</g>
<line x1="647.8" y1="304" x2="647.8" y2="321" stroke="#0ca750" stroke-width="3.6" opacity="0.45"/>
<line x1="647.8" y1="321" x2="654" y2="304.5" stroke="#0ca750" stroke-width="4" opacity="0.45"/>
<line x1="665.5" y1="273" x2="674" y2="250.2" stroke="#0ca750" stroke-width="4" opacity="0.45"/>
<polygon points="672.5,248.6 686,248.6 686,256.3 671,256.3" fill="#0ca750" opacity="0.45"/>
<path d="M765.1,232 Q765.1,228.4 768.5,228.3 L771.8,228.3 L784.2,258.3 L772.8,279.3 L768.5,279.3 Q765.1,279 765.1,275.5 Z" fill="#9a9a9a" opacity="0.4" filter="url(#blur2)"/>
<path d="M765.1,232 Q765.1,228.4 768.5,228.3 L771.8,228.3 L784.2,258.3 L772.8,279.3 L768.5,279.3 Q765.1,279 765.1,275.5 Z" fill="url(#gMir3)" opacity="0.93"/>
<polygon points="771.8,228.3 784.2,258.3 774.2,250.5 773.6,232" fill="#a4a8a8" opacity="0.9"/>
<polygon points="774.2,251.5 784.2,258.3 772.8,279.3 773.8,272" fill="#7f8383" opacity="0.85"/>
<polygon points="771.8,228.3 773.8,232 773.8,276 772.8,279.3 771.2,276 771.2,232" fill="#b4b8b8" opacity="0.8"/>
<polygon points="764,250.9 774,251.4 774,252.6 764,253.5" fill="#0ca750" opacity="0.85"/>
<line x1="773.6" y1="250.6" x2="784.6" y2="264.8" stroke="#0ca750" stroke-width="3.6" opacity="0.5"/>
<rect x="724.6" y="240.6" width="9.6" height="23.8" rx="2.6" fill="#fff" stroke="#000" stroke-width="1.3"/>
<ellipse cx="726" cy="252.5" rx="2.7" ry="11.9" fill="#fff" stroke="#000" stroke-width="1.3"/>
<!--CHARTS-->
<path d="M252.5,602.9 C252.9,603.0 254.1,603.3 255.0,603.3 C255.9,603.3 256.6,603.1 257.5,603.2 C258.4,603.2 259.1,603.4 260.0,603.4 C260.9,603.5 261.6,603.6 262.5,603.5 C263.4,603.4 264.1,603.1 265.0,603.0 C265.9,602.9 266.6,602.8 267.5,603.0 C268.4,603.1 269.1,603.8 270.0,603.8 C270.9,603.9 271.6,603.4 272.5,603.3 C273.4,603.2 274.1,603.2 275.0,603.3 C275.9,603.5 276.6,604.1 277.5,604.1 C278.4,604.2 279.1,603.7 280.0,603.6 C280.9,603.6 281.6,604.0 282.5,604.0 C283.4,604.1 284.1,603.7 285.0,603.7 C285.9,603.7 286.6,604.0 287.5,603.9 C288.4,603.9 289.1,603.4 290.0,603.4 C290.9,603.5 291.6,603.8 292.5,604.0 C293.4,604.1 294.1,604.2 295.0,604.2 C295.9,604.2 296.6,603.9 297.5,603.9 C298.4,603.9 299.1,604.1 300.0,604.1 C300.9,604.2 301.6,604.2 302.5,604.1 C303.4,604.0 304.1,603.5 305.0,603.5 C305.9,603.5 306.6,604.1 307.5,604.2 C308.4,604.3 309.1,604.1 310.0,604.1 C310.9,604.0 311.6,603.9 312.5,603.8 C313.4,603.7 314.1,603.4 315.0,603.5 C315.9,603.6 316.6,604.3 317.5,604.4 C318.4,604.4 319.1,604.0 320.0,604.0 C320.9,603.9 321.6,604.1 322.5,604.2 C323.4,604.3 324.1,604.4 325.0,604.4 C325.9,604.4 326.6,604.7 327.5,604.2 C328.4,603.8 329.1,602.0 330.0,601.9 C330.9,601.9 331.6,603.5 332.5,603.9 C333.4,604.3 334.1,604.3 335.0,604.3 C335.9,604.3 336.6,603.9 337.5,603.9 C338.4,603.9 339.1,604.3 340.0,604.4 C340.9,604.4 341.6,604.5 342.5,604.3 C343.4,604.1 344.1,603.6 345.0,603.5 C345.9,603.4 346.6,603.5 347.5,603.5 C348.4,603.5 349.1,603.4 350.0,603.6 C350.9,603.7 351.6,604.3 352.5,604.3 C353.4,604.3 354.1,603.8 355.0,603.7 C355.9,603.7 356.6,603.9 357.5,603.9 C358.4,603.9 359.1,603.6 360.0,603.5 C360.9,603.5 361.6,603.7 362.5,603.7 C363.4,603.7 364.1,603.6 365.0,603.6 C365.9,603.5 366.6,603.7 367.5,603.5 C368.4,603.3 369.1,602.4 370.0,602.4 C370.9,602.4 371.6,603.4 372.5,603.6 C373.4,603.9 374.1,603.9 375.0,603.9 C375.9,603.9 376.6,603.7 377.5,603.7 C378.4,603.6 379.1,603.8 380.0,603.9 C380.9,603.9 381.6,603.8 382.5,603.7 C383.4,603.7 384.1,603.9 385.0,603.8 C385.9,603.8 386.6,603.6 387.5,603.5 C388.4,603.3 389.1,602.9 390.0,602.9 C390.9,602.9 391.6,603.4 392.5,603.6 C393.4,603.7 394.1,603.6 395.0,603.6 C395.9,603.6 396.6,603.6 397.5,603.5 C398.4,603.4 399.1,603.2 400.0,603.2 C400.9,603.1 401.6,603.3 402.5,603.3 C403.4,603.2 404.1,602.7 405.0,602.7 C405.9,602.7 406.6,603.2 407.5,603.3 C408.4,603.3 409.1,603.1 410.0,603.0 C410.9,602.9 411.6,602.8 412.5,602.7 C413.4,602.5 414.1,602.3 415.0,602.4 C415.9,602.5 416.6,603.0 417.5,603.1 C418.4,603.3 419.1,603.4 420.0,603.2 C420.9,603.1 421.6,602.4 422.5,602.3 C423.4,602.3 424.1,602.9 425.0,603.0 C425.9,603.0 426.6,602.7 427.5,602.6 C428.4,602.4 429.1,602.3 430.0,602.3 C430.9,602.2 431.6,602.3 432.5,602.4 C433.4,602.5 434.1,602.7 435.0,602.8 C435.9,602.9 436.6,603.0 437.5,602.9 C438.4,602.8 439.1,602.1 440.0,602.1 C440.9,602.0 441.6,602.6 442.5,602.6 C443.4,602.6 444.1,602.0 445.0,602.0 C445.9,602.0 446.6,602.6 447.5,602.7 C448.4,602.7 449.1,602.2 450.0,602.3 C450.9,602.3 451.6,602.7 452.5,602.8 C453.4,602.9 454.1,603.0 455.0,602.9 C455.9,602.8 456.6,602.4 457.5,602.4 C458.4,602.4 459.1,602.9 460.0,602.9 C460.9,602.9 461.6,602.4 462.5,602.2 C463.4,602.0 464.1,601.9 465.0,602.0 C465.9,602.0 466.6,602.5 467.5,602.5 C468.4,602.5 469.1,602.0 470.0,601.9 C470.9,601.9 471.6,602.0 472.5,602.1 C473.4,602.2 474.1,602.3 475.0,602.3 C475.9,602.4 476.6,602.6 477.5,602.5 C478.4,602.5 479.1,602.2 480.0,602.1 C480.9,602.0 481.6,601.9 482.5,602.0 C483.4,602.1 484.1,602.8 485.0,602.9 C485.9,602.9 486.6,602.3 487.5,602.3 C488.4,602.3 489.1,602.9 490.0,603.0 C490.9,603.1 491.6,603.0 492.5,603.0 C493.4,602.9 494.1,602.5 495.0,602.5 C495.9,602.4 496.6,602.5 497.5,602.6 C498.4,602.6 499.1,602.6 500.0,602.7 C500.9,602.7 501.6,602.8 502.5,602.8 C503.4,602.8 504.1,602.8 505.0,602.8 C505.9,602.8 506.6,602.8 507.5,602.8 C508.4,602.8 509.1,602.8 510.0,602.9 C510.9,603.0 511.6,603.3 512.5,603.3 C513.4,603.3 514.1,602.9 515.0,602.9 C515.9,602.8 516.6,602.8 517.5,602.8 C518.4,602.9 519.1,603.2 520.0,603.2 C520.9,603.1 521.6,602.8 522.5,602.7 C523.4,602.7 524.1,602.7 525.0,602.8 C525.9,603.0 526.6,603.5 527.5,603.5 C528.4,603.6 529.1,603.2 530.0,603.1 C530.9,603.1 531.6,603.3 532.5,603.2 C533.4,603.1 534.1,602.7 535.0,602.7 C535.9,602.7 536.6,603.0 537.5,603.2 C538.4,603.3 539.1,603.4 540.0,603.4 C540.9,603.3 541.6,602.8 542.5,602.9 C543.4,602.9 544.1,603.4 545.0,603.5 C545.9,603.6 546.6,603.6 547.5,603.6 C548.4,603.5 549.1,603.0 550.0,603.0 C550.9,603.0 551.6,603.5 552.5,603.6 C553.4,603.7 554.1,603.5 555.0,603.5 C555.9,603.5 556.6,603.8 557.5,603.8 C558.4,603.8 559.1,603.5 560.0,603.5 C560.9,603.5 561.6,603.8 562.5,603.9 C563.4,604.0 564.1,604.0 565.0,603.9 C565.9,603.8 566.6,603.4 567.5,603.3 C568.4,603.1 569.1,603.2 570.0,603.3 C570.9,603.5 571.6,603.8 572.5,604.0 C573.4,604.1 574.1,604.4 575.0,604.3 C575.9,604.2 576.6,603.7 577.5,603.6 C578.4,603.5 579.1,603.8 580.0,603.8 C580.9,603.9 581.6,604.0 582.5,604.0 C583.4,604.0 584.1,603.8 585.0,603.7 C585.9,603.7 586.6,603.8 587.5,603.8 C588.4,603.8 589.5,603.8 590.0,603.8" fill="none" stroke="#f30a14" stroke-width="3.6" stroke-linejoin="round" stroke-linecap="round"/>
<path d="M252.1,502.3 C252.5,500.2 253.6,491.6 254.6,490.9 C255.6,490.2 256.5,496.6 257.6,498.5 C258.7,500.4 259.5,502.0 260.6,501.5 C261.8,501.0 262.5,498.9 263.9,496.0 C265.3,493.1 266.6,486.8 268.2,485.4 C269.8,483.9 271.4,487.1 272.7,487.9 C274.1,488.7 274.8,489.8 275.8,489.7 C276.7,489.5 277.0,485.5 277.8,487.1 C278.5,488.7 279.1,494.6 279.8,498.5 C280.5,502.3 280.6,506.6 281.6,508.6 C282.5,510.5 283.8,509.1 285.3,509.3 C286.8,509.5 288.5,508.8 289.9,509.8 C291.2,510.8 291.7,512.7 292.9,514.9 C294.1,517.0 295.2,520.8 296.7,521.7 C298.1,522.6 299.2,521.1 301.0,519.9 C302.7,518.7 304.8,515.1 306.3,514.9 C307.8,514.6 308.1,516.5 309.3,518.6 C310.4,520.8 311.4,525.7 312.6,526.7 C313.7,527.7 314.5,524.4 315.6,524.2 C316.7,524.0 317.5,524.8 318.6,525.7 C319.7,526.6 320.7,528.5 321.9,529.2 C323.1,530.0 324.3,531.4 325.2,530.0 C326.1,528.5 326.4,534.6 326.9,521.2 C327.5,507.8 327.7,478.3 328.2,455.6 C328.6,432.9 329.0,395.1 329.4,395.1 C329.9,395.1 330.3,432.9 330.7,455.6 C331.2,478.3 331.6,507.3 332.0,521.2 C332.3,535.0 332.1,531.5 332.7,532.5 C333.3,533.5 334.3,526.4 335.2,526.7 C336.2,527.0 336.8,534.3 337.8,534.3 C338.8,534.3 339.9,526.6 340.8,526.7 C341.7,526.8 341.9,533.1 342.8,535.0 C343.7,537.0 344.5,536.4 345.8,537.5 C347.2,538.7 348.8,541.1 350.4,541.3 C352.0,541.6 353.0,539.4 354.7,538.8 C356.3,538.3 358.1,539.0 359.7,538.3 C361.3,537.6 362.3,536.8 363.5,535.0 C364.6,533.3 365.2,536.2 366.0,528.7 C366.8,521.2 367.2,504.3 367.8,493.4 C368.3,482.5 368.5,468.2 369.0,468.2 C369.5,468.2 369.9,483.5 370.5,493.4 C371.1,503.4 371.5,516.7 372.3,523.7 C373.1,530.7 373.7,530.6 374.8,532.5 C376.0,534.4 377.2,534.4 378.6,534.3 C380.0,534.1 380.6,532.5 382.4,531.8 C384.2,531.0 386.6,530.2 388.7,530.0 C390.7,529.8 391.9,531.3 393.7,530.7 C395.5,530.2 397.0,528.4 398.8,526.7 C400.6,525.0 402.4,523.3 403.8,521.2 C405.3,519.0 405.9,516.9 406.8,514.9 C407.7,512.8 408.1,509.6 408.9,509.8 C409.6,510.0 410.0,514.6 410.9,516.1 C411.8,517.6 412.4,518.4 413.9,518.1 C415.3,517.9 417.0,516.0 418.9,514.9 C420.8,513.7 423.6,512.2 424.5,511.6 C425.4,510.9 423.1,511.9 423.9,511.2 C424.7,510.5 427.2,508.2 428.8,507.8 C430.4,507.5 431.2,509.2 432.7,509.2 C434.3,509.2 435.9,507.6 437.6,507.8 C439.4,508.1 441.1,510.7 442.5,510.6 C444.0,510.5 444.5,508.5 445.5,507.3 C446.4,506.1 447.0,503.8 447.8,503.9 C448.7,504.0 449.4,507.4 450.4,507.8 C451.4,508.3 452.4,508.3 453.3,506.3 C454.3,504.2 454.9,499.2 455.7,496.5 C456.5,493.7 456.9,490.6 457.6,491.0 C458.4,491.3 458.8,496.0 459.6,498.4 C460.4,500.9 461.1,503.3 462.2,504.7 C463.2,506.1 464.4,507.4 465.5,506.3 C466.5,505.1 467.2,502.7 468.0,498.4 C468.9,494.2 469.4,486.9 470.0,482.7 C470.6,478.6 470.8,475.3 471.4,475.3 C471.9,475.3 472.1,478.6 472.9,482.7 C473.8,486.9 474.8,493.6 475.9,498.4 C476.9,503.3 477.8,507.9 478.8,509.8 C479.9,511.7 480.9,508.8 481.8,509.2 C482.6,509.6 482.8,511.3 483.7,512.2 C484.7,513.0 485.8,514.2 487.1,514.1 C488.3,514.0 489.4,512.6 490.6,511.8 C491.8,510.9 492.5,509.3 493.5,509.2 C494.5,509.1 495.2,511.2 496.1,511.2 C497.0,511.2 497.6,511.5 498.4,509.2 C499.3,506.9 500.1,502.5 500.8,498.4 C501.5,494.4 501.9,489.5 502.4,486.7 C502.8,483.8 502.9,481.3 503.3,482.7 C503.8,484.2 504.1,489.6 504.7,494.5 C505.3,499.5 506.0,506.3 506.7,510.2 C507.4,514.1 507.9,515.7 508.6,516.1 C509.3,516.4 509.9,516.0 510.6,512.2 C511.3,508.3 511.9,502.3 512.5,494.5 C513.2,486.7 513.6,478.0 514.1,469.0 C514.7,460.0 515.2,444.5 515.7,444.5 C516.2,444.5 516.5,459.3 517.1,469.0 C517.6,478.7 518.0,490.7 518.6,498.4 C519.2,506.2 519.6,507.6 520.4,512.2 C521.2,516.7 522.0,520.3 522.9,523.9 C523.9,527.5 524.6,531.6 525.5,532.2 C526.4,532.7 527.1,528.6 527.8,526.9 C528.6,525.1 529.0,522.4 529.8,522.4 C530.6,522.4 531.1,525.6 532.2,526.9 C533.2,528.1 534.3,528.7 535.7,529.4 C537.0,530.1 538.2,530.9 539.6,530.8 C541.0,530.7 542.3,530.1 543.5,528.8 C544.8,527.6 545.6,527.6 546.5,523.9 C547.4,520.2 547.7,516.4 548.4,508.2 C549.1,500.1 549.8,487.3 550.4,478.8 C551.0,470.4 551.4,461.2 552.0,461.2 C552.6,461.2 553.1,471.4 553.7,478.8 C554.3,486.2 554.7,496.4 555.3,502.4 C555.9,508.4 556.5,511.3 557.3,512.2 C558.0,513.0 558.8,507.8 559.6,507.3 C560.4,506.7 560.8,509.2 561.6,509.2 C562.4,509.2 563.3,509.5 564.1,507.3 C564.9,505.0 565.5,500.9 566.1,496.5 C566.7,492.1 567.0,486.0 567.5,482.7 C567.9,479.5 568.2,477.0 568.6,478.4 C569.1,479.8 569.5,485.6 570.0,490.6 C570.5,495.6 570.9,504.2 571.6,506.3 C572.3,508.4 573.1,502.4 573.9,502.4 C574.7,502.4 575.2,505.0 575.9,506.3 C576.6,507.5 577.0,508.2 577.8,509.2 C578.7,510.3 579.5,512.7 580.4,512.2 C581.3,511.6 582.0,511.2 582.7,506.3 C583.5,501.3 584.1,493.2 584.7,484.7 C585.3,476.2 585.8,465.6 586.3,459.2 C586.7,452.9 586.8,447.6 587.3,449.4 C587.7,451.2 588.1,460.9 588.6,469.0 C589.2,477.1 589.6,486.9 590.2,494.5 C590.8,502.1 591.8,508.2 592.2,511.2" fill="none" stroke="#0cf50c" stroke-width="3.6" stroke-linejoin="round" stroke-linecap="round"/>
<path d="M251.8,361.0 V616.8 H600.6" fill="none" stroke="#111" stroke-width="1.7"/>
<path d="M251.8,361.5 H600.1 V616.8" fill="none" stroke="#000" stroke-width="1.5"/>
<line x1="246.3" y1="361.5" x2="251.8" y2="361.5" stroke="#111" stroke-width="1.3"/>
<line x1="248.5" y1="384.7" x2="251.8" y2="384.7" stroke="#111" stroke-width="1.1"/>
<text x="190.0" y="367.5" class="tk" textLength="53.3" lengthAdjust="spacingAndGlyphs">4.5x10<tspan dy="-6.3" font-size="10.5">5</tspan></text>
<line x1="246.3" y1="407.9" x2="251.8" y2="407.9" stroke="#111" stroke-width="1.3"/>
<line x1="248.5" y1="431.0" x2="251.8" y2="431.0" stroke="#111" stroke-width="1.1"/>
<text x="190.0" y="413.9" class="tk" textLength="53.3" lengthAdjust="spacingAndGlyphs">4.0x10<tspan dy="-6.3" font-size="10.5">5</tspan></text>
<line x1="246.3" y1="454.2" x2="251.8" y2="454.2" stroke="#111" stroke-width="1.3"/>
<line x1="248.5" y1="477.4" x2="251.8" y2="477.4" stroke="#111" stroke-width="1.1"/>
<text x="190.0" y="460.2" class="tk" textLength="53.3" lengthAdjust="spacingAndGlyphs">3.5x10<tspan dy="-6.3" font-size="10.5">5</tspan></text>
<line x1="246.3" y1="500.6" x2="251.8" y2="500.6" stroke="#111" stroke-width="1.3"/>
<line x1="248.5" y1="523.8" x2="251.8" y2="523.8" stroke="#111" stroke-width="1.1"/>
<text x="190.0" y="506.6" class="tk" textLength="53.3" lengthAdjust="spacingAndGlyphs">3.0x10<tspan dy="-6.3" font-size="10.5">5</tspan></text>
<line x1="246.3" y1="546.9" x2="251.8" y2="546.9" stroke="#111" stroke-width="1.3"/>
<line x1="248.5" y1="570.1" x2="251.8" y2="570.1" stroke="#111" stroke-width="1.1"/>
<text x="190.0" y="552.9" class="tk" textLength="53.3" lengthAdjust="spacingAndGlyphs">2.5x10<tspan dy="-6.3" font-size="10.5">5</tspan></text>
<line x1="246.3" y1="593.3" x2="251.8" y2="593.3" stroke="#111" stroke-width="1.3"/>
<line x1="248.5" y1="616.5" x2="251.8" y2="616.5" stroke="#111" stroke-width="1.1"/>
<text x="190.0" y="599.3" class="tk" textLength="53.3" lengthAdjust="spacingAndGlyphs">2.0x10<tspan dy="-6.3" font-size="10.5">5</tspan></text>
<line x1="251.8" y1="616.8" x2="251.8" y2="619.8" stroke="#111" stroke-width="1.1"/>
<line x1="276.7" y1="616.8" x2="276.7" y2="621.8" stroke="#111" stroke-width="1.3"/>
<text x="276.7" y="639" text-anchor="middle" class="tk">400</text>
<line x1="301.5" y1="616.8" x2="301.5" y2="619.8" stroke="#111" stroke-width="1.1"/>
<line x1="326.4" y1="616.8" x2="326.4" y2="621.8" stroke="#111" stroke-width="1.3"/>
<text x="326.4" y="639" text-anchor="middle" class="tk">600</text>
<line x1="351.3" y1="616.8" x2="351.3" y2="619.8" stroke="#111" stroke-width="1.1"/>
<line x1="376.2" y1="616.8" x2="376.2" y2="621.8" stroke="#111" stroke-width="1.3"/>
<text x="376.2" y="639" text-anchor="middle" class="tk">800</text>
<line x1="401.0" y1="616.8" x2="401.0" y2="619.8" stroke="#111" stroke-width="1.1"/>
<line x1="425.9" y1="616.8" x2="425.9" y2="621.8" stroke="#111" stroke-width="1.3"/>
<text x="425.9" y="639" text-anchor="middle" class="tk">1000</text>
<line x1="450.8" y1="616.8" x2="450.8" y2="619.8" stroke="#111" stroke-width="1.1"/>
<line x1="475.6" y1="616.8" x2="475.6" y2="621.8" stroke="#111" stroke-width="1.3"/>
<text x="475.6" y="639" text-anchor="middle" class="tk">1200</text>
<line x1="500.5" y1="616.8" x2="500.5" y2="619.8" stroke="#111" stroke-width="1.1"/>
<line x1="525.4" y1="616.8" x2="525.4" y2="621.8" stroke="#111" stroke-width="1.3"/>
<text x="525.4" y="639" text-anchor="middle" class="tk">1400</text>
<line x1="550.3" y1="616.8" x2="550.3" y2="619.8" stroke="#111" stroke-width="1.1"/>
<line x1="575.1" y1="616.8" x2="575.1" y2="621.8" stroke="#111" stroke-width="1.3"/>
<text x="575.1" y="639" text-anchor="middle" class="tk">1600</text>
<line x1="600.0" y1="616.8" x2="600.0" y2="619.8" stroke="#111" stroke-width="1.1"/>
<line x1="286.8" y1="361.5" x2="286.8" y2="364.5" stroke="#222" stroke-width="1"/>
<line x1="321.5" y1="361.5" x2="321.5" y2="367.0" stroke="#222" stroke-width="1"/>
<line x1="356.2" y1="361.5" x2="356.2" y2="364.5" stroke="#222" stroke-width="1"/>
<line x1="391.0" y1="361.5" x2="391.0" y2="367.0" stroke="#222" stroke-width="1"/>
<line x1="425.6" y1="361.5" x2="425.6" y2="364.5" stroke="#222" stroke-width="1"/>
<line x1="460.4" y1="361.5" x2="460.4" y2="367.0" stroke="#222" stroke-width="1"/>
<line x1="495.0" y1="361.5" x2="495.0" y2="364.5" stroke="#222" stroke-width="1"/>
<line x1="530.0" y1="361.5" x2="530.0" y2="367.0" stroke="#222" stroke-width="1"/>
<line x1="564.6" y1="361.5" x2="564.6" y2="364.5" stroke="#222" stroke-width="1"/>
<line x1="597.0" y1="387.0" x2="600.0" y2="387.0" stroke="#777" stroke-width="1"/>
<line x1="594.0" y1="412.2" x2="600.0" y2="412.2" stroke="#222" stroke-width="1"/>
<line x1="597.0" y1="437.8" x2="600.0" y2="437.8" stroke="#777" stroke-width="1"/>
<line x1="594.0" y1="463.4" x2="600.0" y2="463.4" stroke="#222" stroke-width="1"/>
<line x1="597.0" y1="489.2" x2="600.0" y2="489.2" stroke="#777" stroke-width="1"/>
<line x1="594.0" y1="514.4" x2="600.0" y2="514.4" stroke="#222" stroke-width="1"/>
<line x1="597.0" y1="540.2" x2="600.0" y2="540.2" stroke="#777" stroke-width="1"/>
<line x1="594.0" y1="565.8" x2="600.0" y2="565.8" stroke="#222" stroke-width="1"/>
<line x1="597.0" y1="591.3" x2="600.0" y2="591.3" stroke="#777" stroke-width="1"/>
<text x="369.4" y="421.7" font-size="47.1" fill="#ff0000" class="rg" textLength="91.8" lengthAdjust="spacingAndGlyphs">R6G</text>
<rect x="480.3" y="374.4" width="110.2" height="54.9" fill="#fff" stroke="#666" stroke-width="1"/>
<line x1="486.7" y1="391.8" x2="520.3" y2="391.8" stroke="#ff0000" stroke-width="3.2" stroke-linecap="round"/>
<line x1="486.7" y1="419.5" x2="520.3" y2="419.5" stroke="#00ff00" stroke-width="3.2" stroke-linecap="round"/>
<text x="526.4" y="396.8" font-size="22" class="bd">before</text>
<text x="526.4" y="424.3" font-size="22" class="bd">after</text>
<text transform="translate(178.7,598.0) rotate(-90)" font-size="22" class="bd" textLength="213.6" lengthAdjust="spacingAndGlyphs">Raman intensity (a.u.)</text>
<text x="327.8" y="670.2" font-size="22" class="bd" textLength="195.5" lengthAdjust="spacingAndGlyphs">Wavenumber <tspan class="rg" font-weight="normal">(</tspan><tspan font-size="20.5">cm</tspan><tspan font-size="19" dy="-8">-1</tspan><tspan class="rg" font-weight="normal" dy="8">)</tspan></text>
<path d="M707.0,547.5 C707.5,549.3 708.6,554.1 709.8,557.3 C711.0,560.6 712.1,563.7 713.5,565.7 C714.8,567.8 716.2,568.6 717.4,568.5 C718.6,568.4 719.2,564.9 720.2,565.2 C721.2,565.4 721.8,568.3 723.0,569.9 C724.1,571.6 725.3,574.9 726.6,574.1 C727.9,573.4 729.0,571.8 730.3,565.7 C731.5,559.7 732.5,549.6 733.6,540.5 C734.7,531.4 735.5,523.4 736.4,515.3 C737.3,507.2 738.0,500.2 738.7,495.7 C739.3,491.1 739.5,489.1 740.1,490.1 C740.7,491.1 741.4,497.7 742.0,501.3 C742.6,504.8 742.8,510.3 743.4,509.7 C744.0,509.1 744.6,498.9 745.4,497.9 C746.2,496.9 746.8,500.4 747.6,504.1 C748.5,507.7 748.9,513.0 749.9,518.1 C750.9,523.1 752.1,532.6 753.3,532.1 C754.4,531.6 754.9,524.4 756.1,515.3 C757.2,506.2 758.2,492.8 759.4,481.7 C760.7,470.6 762.0,462.1 763.1,453.6 C764.1,445.2 764.5,434.6 765.3,434.6 C766.1,434.6 766.6,444.9 767.3,453.6 C768.0,462.4 768.5,477.4 769.2,483.1 C770.0,488.7 770.6,482.7 771.5,485.0 C772.4,487.4 773.0,495.6 774.3,496.2 C775.5,496.9 777.2,488.9 778.5,488.7 C779.7,488.5 780.3,494.5 781.3,495.1 C782.3,495.8 783.1,491.7 784.1,492.3 C785.1,492.9 785.8,496.4 786.9,498.5 C788.0,500.6 788.5,504.0 790.2,504.1 C792.0,504.2 794.3,499.3 796.7,499.0 C799.1,498.8 801.2,501.3 803.7,502.7 C806.2,504.1 808.8,506.5 810.7,506.9 C812.6,507.3 812.8,504.5 814.3,504.9 C815.9,505.3 817.2,507.9 819.1,509.1 C821.0,510.4 822.9,511.4 824.7,511.9 C826.6,512.4 828.1,512.3 829.5,511.9 C830.9,511.5 831.4,508.8 832.6,509.7 C833.7,510.5 834.6,514.1 835.9,516.7 C837.3,519.3 838.4,523.1 840.1,524.3 C841.9,525.4 844.0,523.7 845.7,523.1 C847.5,522.5 848.6,522.4 849.9,520.9 C851.3,519.4 852.1,514.7 853.3,514.7 C854.5,514.7 855.2,518.3 856.4,520.9 C857.6,523.5 858.7,527.4 859.8,529.3 C860.8,531.2 861.1,533.1 862.0,531.5 C862.9,530.0 863.8,524.7 864.8,520.9 C865.8,517.1 866.4,511.5 867.3,510.2 C868.3,509.0 869.3,513.5 870.1,513.9 C870.9,514.3 871.1,510.7 871.8,512.5 C872.5,514.3 872.9,518.2 873.8,523.7 C874.6,529.2 875.8,539.5 876.6,543.3 C877.3,547.1 876.8,542.4 877.8,544.9 C878.8,547.4 880.1,554.4 882.0,557.2 C883.9,560.0 886.4,561.0 888.3,560.7 C890.2,560.4 891.1,559.5 892.5,555.4 C893.9,551.4 894.9,542.7 896.0,537.9 C897.1,533.2 897.8,531.1 898.8,529.2 C899.7,527.3 900.2,529.7 901.2,527.5 C902.3,525.2 903.6,520.1 904.7,517.0 C905.9,513.8 906.7,517.5 907.5,510.0 C908.4,502.4 908.7,490.7 909.3,475.0 C909.9,459.2 910.2,437.6 910.7,422.5 C911.1,407.4 911.3,391.0 911.7,391.0 C912.2,391.0 912.6,407.4 913.1,422.5 C913.6,437.6 914.0,459.2 914.5,475.0 C915.1,490.7 915.5,499.8 916.3,510.0 C917.1,520.2 918.1,530.4 919.1,531.7 C920.0,532.9 920.7,524.0 921.5,517.0 C922.4,509.9 923.0,500.0 924.0,492.5 C924.9,484.9 925.8,475.0 926.8,475.0 C927.7,475.0 928.2,483.0 929.2,492.5 C930.3,501.9 931.3,518.0 932.7,527.5 C934.2,536.9 935.8,539.9 937.3,544.9 C938.7,550.0 939.7,552.6 940.8,555.4 C941.9,558.3 942.2,561.2 943.2,560.7 C944.3,560.2 945.2,554.8 946.7,552.6 C948.3,550.4 950.1,550.5 952.0,548.4 C953.9,546.4 955.5,544.1 957.2,541.4 C959.0,538.8 960.3,536.4 961.8,533.8 C963.2,531.1 964.0,526.6 965.3,526.8 C966.5,526.9 967.7,532.6 968.8,534.5 C969.8,536.3 970.2,537.9 971.2,537.2 C972.3,536.6 973.3,535.2 974.7,531.0 C976.2,526.7 977.4,519.1 979.3,513.5 C981.2,507.8 983.5,504.2 985.2,499.5 C986.9,494.7 987.5,490.9 988.7,487.2 C990.0,483.6 991.0,478.9 992.2,479.2 C993.5,479.5 994.5,485.0 995.7,489.0 C997.0,492.9 998.0,497.9 999.2,501.2 C1000.5,504.5 1001.1,505.9 1002.7,507.2 C1004.3,508.4 1006.4,508.0 1008.0,508.2 C1009.5,508.4 1010.3,510.4 1011.5,508.2 C1012.6,506.0 1013.3,500.6 1014.3,496.0 C1015.2,491.4 1015.8,482.7 1016.7,482.7 C1017.6,482.7 1018.2,490.7 1019.2,496.0 C1020.1,501.2 1020.5,507.3 1022.0,511.7 C1023.4,516.1 1025.3,519.5 1027.2,520.5 C1029.1,521.4 1030.2,518.5 1032.5,517.0 C1034.7,515.4 1036.9,513.5 1039.5,511.7 C1042.0,509.9 1043.9,508.4 1046.4,507.2 C1049.0,505.9 1052.2,505.2 1053.4,504.7" fill="none" stroke="#0cf50c" stroke-width="3.8" stroke-linejoin="round" stroke-linecap="round"/>
<path d="M707.0,596.0 C707.8,596.7 709.4,598.9 711.2,599.9 C713.0,600.9 714.9,602.0 716.8,601.6 C718.7,601.3 720.3,598.4 721.9,598.0 C723.4,597.6 724.0,598.9 725.2,599.4 C726.4,599.9 727.3,601.3 728.6,600.8 C729.8,600.3 730.9,599.3 732.2,596.6 C733.5,593.8 734.5,589.4 735.9,585.4 C737.2,581.3 738.6,575.1 739.8,574.1 C741.0,573.2 741.4,579.6 742.6,580.3 C743.8,581.1 744.9,577.9 746.2,578.4 C747.6,578.8 748.6,581.2 749.9,582.6 C751.1,583.9 752.0,586.2 753.3,585.9 C754.5,585.7 755.6,584.3 756.9,581.2 C758.2,578.0 759.1,572.6 760.3,568.5 C761.4,564.5 762.2,561.2 763.1,558.7 C763.9,556.3 764.3,554.1 765.0,555.1 C765.8,556.1 766.5,561.0 767.3,564.3 C768.1,567.7 768.4,571.3 769.5,573.6 C770.6,575.9 771.6,577.0 773.4,577.0 C775.3,577.0 778.0,573.7 779.9,573.6 C781.8,573.5 782.2,574.9 784.1,576.4 C785.9,577.9 788.0,580.9 790.2,581.7 C792.5,582.5 794.5,581.3 796.7,580.9 C798.9,580.4 800.3,579.1 802.3,579.2 C804.3,579.2 805.9,580.3 807.9,581.2 C809.9,582.0 811.5,583.7 813.5,584.0 C815.5,584.2 816.8,583.0 819.1,582.6 C821.4,582.2 823.9,581.7 826.1,581.7 C828.4,581.7 829.7,581.9 831.7,582.6 C833.7,583.2 835.3,584.5 837.3,585.4 C839.3,586.3 840.9,587.6 842.9,587.6 C845.0,587.6 846.6,585.9 848.5,585.4 C850.5,584.9 852.1,584.5 853.6,584.8 C855.1,585.1 855.7,586.0 857.0,586.8 C858.2,587.5 859.1,589.8 860.3,589.0 C861.6,588.2 862.6,584.7 864.0,582.6 C865.3,580.4 866.2,577.5 867.6,577.0 C869.0,576.4 870.2,578.3 871.5,579.8 C872.9,581.2 874.5,584.3 875.2,584.8 C875.8,585.3 874.1,582.2 875.0,582.7 C875.9,583.2 877.9,586.1 880.2,587.6 C882.6,589.1 885.8,591.3 888.3,591.1 C890.8,591.0 892.2,588.6 894.2,586.9 C896.3,585.2 897.6,583.3 899.5,581.7 C901.4,580.1 903.2,579.8 904.7,578.2 C906.3,576.6 907.0,575.3 908.2,572.9 C909.4,570.6 910.3,565.2 911.4,565.2 C912.5,565.2 913.1,570.0 914.2,572.9 C915.3,575.9 916.4,580.7 917.7,581.7 C918.9,582.6 919.9,580.1 921.2,578.2 C922.4,576.3 923.6,573.1 924.7,571.2 C925.8,569.3 926.5,566.7 927.5,567.7 C928.5,568.6 929.1,573.1 930.3,576.4 C931.4,579.8 932.4,583.7 933.8,586.2 C935.2,588.8 936.0,589.8 938.0,590.4 C940.0,591.1 942.5,590.2 945.0,589.7 C947.5,589.2 949.1,588.3 952.0,587.6 C954.8,587.0 958.1,586.2 960.7,586.2 C963.4,586.2 964.8,586.8 966.7,587.6 C968.6,588.5 969.5,591.9 971.2,591.1 C973.0,590.4 974.6,585.5 976.5,583.4 C978.4,581.4 979.8,581.2 981.7,579.9 C983.6,578.7 985.2,578.0 987.0,576.4 C988.7,574.9 989.9,570.9 991.5,571.2 C993.1,571.5 993.9,576.1 995.7,578.2 C997.5,580.3 999.5,582.1 1001.7,582.7 C1003.9,583.4 1005.9,582.3 1008.0,581.7 C1010.0,581.1 1011.6,580.7 1013.2,579.2 C1014.8,577.8 1015.7,573.5 1017.1,573.6 C1018.4,573.8 1019.0,578.0 1020.6,579.9 C1022.1,581.8 1023.3,583.6 1025.5,584.1 C1027.6,584.6 1029.9,583.8 1032.5,582.7 C1035.0,581.7 1036.9,579.6 1039.5,578.2 C1042.0,576.7 1043.9,575.9 1046.4,574.7 C1049.0,573.4 1052.2,571.8 1053.4,571.2" fill="none" stroke="#ee0a14" stroke-width="4.0" stroke-linejoin="round" stroke-linecap="round"/>
<path d="M706.8,361.1 V616.8 H1055.2" fill="none" stroke="#111" stroke-width="1.7"/>
<path d="M706.8,361.6 H1054.7 V616.8" fill="none" stroke="#000" stroke-width="1.5"/>
<line x1="701.3" y1="361.6" x2="706.8" y2="361.6" stroke="#111" stroke-width="1.3"/>
<line x1="703.5" y1="379.8" x2="706.8" y2="379.8" stroke="#111" stroke-width="1.1"/>
<text x="644.6" y="367.6" class="tk" textLength="53.3" lengthAdjust="spacingAndGlyphs">1.4x10<tspan dy="-6.3" font-size="10.5">5</tspan></text>
<line x1="701.3" y1="398.1" x2="706.8" y2="398.1" stroke="#111" stroke-width="1.3"/>
<line x1="703.5" y1="416.3" x2="706.8" y2="416.3" stroke="#111" stroke-width="1.1"/>
<text x="644.6" y="404.1" class="tk" textLength="53.3" lengthAdjust="spacingAndGlyphs">1.2x10<tspan dy="-6.3" font-size="10.5">5</tspan></text>
<line x1="701.3" y1="434.5" x2="706.8" y2="434.5" stroke="#111" stroke-width="1.3"/>
<line x1="703.5" y1="452.7" x2="706.8" y2="452.7" stroke="#111" stroke-width="1.1"/>
<text x="644.6" y="440.5" class="tk" textLength="53.3" lengthAdjust="spacingAndGlyphs">1.0x10<tspan dy="-6.3" font-size="10.5">5</tspan></text>
<line x1="701.3" y1="471.0" x2="706.8" y2="471.0" stroke="#111" stroke-width="1.3"/>
<line x1="703.5" y1="489.2" x2="706.8" y2="489.2" stroke="#111" stroke-width="1.1"/>
<text x="644.6" y="477.0" class="tk" textLength="53.3" lengthAdjust="spacingAndGlyphs">8.0x10<tspan dy="-6.3" font-size="10.5">4</tspan></text>
<line x1="701.3" y1="507.4" x2="706.8" y2="507.4" stroke="#111" stroke-width="1.3"/>
<line x1="703.5" y1="525.7" x2="706.8" y2="525.7" stroke="#111" stroke-width="1.1"/>
<text x="644.6" y="513.4" class="tk" textLength="53.3" lengthAdjust="spacingAndGlyphs">6.0x10<tspan dy="-6.3" font-size="10.5">4</tspan></text>
<line x1="701.3" y1="543.9" x2="706.8" y2="543.9" stroke="#111" stroke-width="1.3"/>
<line x1="703.5" y1="562.1" x2="706.8" y2="562.1" stroke="#111" stroke-width="1.1"/>
<text x="644.6" y="549.9" class="tk" textLength="53.3" lengthAdjust="spacingAndGlyphs">4.0x10<tspan dy="-6.3" font-size="10.5">4</tspan></text>
<line x1="701.3" y1="580.3" x2="706.8" y2="580.3" stroke="#111" stroke-width="1.3"/>
<line x1="703.5" y1="598.6" x2="706.8" y2="598.6" stroke="#111" stroke-width="1.1"/>
<text x="644.6" y="586.3" class="tk" textLength="53.3" lengthAdjust="spacingAndGlyphs">2.0x10<tspan dy="-6.3" font-size="10.5">4</tspan></text>
<line x1="701.3" y1="616.8" x2="706.8" y2="616.8" stroke="#111" stroke-width="1.3"/>
<text x="697.3" y="620.2" text-anchor="end" class="tk">0.0</text>
<line x1="706.8" y1="616.8" x2="706.8" y2="619.8" stroke="#111" stroke-width="1.1"/>
<line x1="733.6" y1="616.8" x2="733.6" y2="621.8" stroke="#111" stroke-width="1.3"/>
<text x="733.6" y="639" text-anchor="middle" class="tk">400</text>
<line x1="760.3" y1="616.8" x2="760.3" y2="619.8" stroke="#111" stroke-width="1.1"/>
<line x1="787.1" y1="616.8" x2="787.1" y2="621.8" stroke="#111" stroke-width="1.3"/>
<text x="787.1" y="639" text-anchor="middle" class="tk">600</text>
<line x1="813.8" y1="616.8" x2="813.8" y2="619.8" stroke="#111" stroke-width="1.1"/>
<line x1="840.6" y1="616.8" x2="840.6" y2="621.8" stroke="#111" stroke-width="1.3"/>
<text x="840.6" y="639" text-anchor="middle" class="tk">800</text>
<line x1="867.3" y1="616.8" x2="867.3" y2="619.8" stroke="#111" stroke-width="1.1"/>
<line x1="894.1" y1="616.8" x2="894.1" y2="621.8" stroke="#111" stroke-width="1.3"/>
<text x="894.1" y="639" text-anchor="middle" class="tk">1000</text>
<line x1="920.8" y1="616.8" x2="920.8" y2="619.8" stroke="#111" stroke-width="1.1"/>
<line x1="947.6" y1="616.8" x2="947.6" y2="621.8" stroke="#111" stroke-width="1.3"/>
<text x="947.6" y="639" text-anchor="middle" class="tk">1200</text>
<line x1="974.3" y1="616.8" x2="974.3" y2="619.8" stroke="#111" stroke-width="1.1"/>
<line x1="1001.1" y1="616.8" x2="1001.1" y2="621.8" stroke="#111" stroke-width="1.3"/>
<text x="1001.1" y="639" text-anchor="middle" class="tk">1400</text>
<line x1="1027.8" y1="616.8" x2="1027.8" y2="619.8" stroke="#111" stroke-width="1.1"/>
<line x1="1054.6" y1="616.8" x2="1054.6" y2="621.8" stroke="#111" stroke-width="1.3"/>
<text x="1054.6" y="639" text-anchor="middle" class="tk">1600</text>
<line x1="741.8" y1="361.6" x2="741.8" y2="364.6" stroke="#222" stroke-width="1"/>
<line x1="776.5" y1="361.6" x2="776.5" y2="367.1" stroke="#222" stroke-width="1"/>
<line x1="811.2" y1="361.6" x2="811.2" y2="364.6" stroke="#222" stroke-width="1"/>
<line x1="846.0" y1="361.6" x2="846.0" y2="367.1" stroke="#222" stroke-width="1"/>
<line x1="880.6" y1="361.6" x2="880.6" y2="364.6" stroke="#222" stroke-width="1"/>
<line x1="915.4" y1="361.6" x2="915.4" y2="367.1" stroke="#222" stroke-width="1"/>
<line x1="950.0" y1="361.6" x2="950.0" y2="364.6" stroke="#222" stroke-width="1"/>
<line x1="985.0" y1="361.6" x2="985.0" y2="367.1" stroke="#222" stroke-width="1"/>
<line x1="1019.6" y1="361.6" x2="1019.6" y2="364.6" stroke="#222" stroke-width="1"/>
<line x1="1051.6" y1="387.0" x2="1054.6" y2="387.0" stroke="#777" stroke-width="1"/>
<line x1="1048.6" y1="412.2" x2="1054.6" y2="412.2" stroke="#222" stroke-width="1"/>
<line x1="1051.6" y1="437.8" x2="1054.6" y2="437.8" stroke="#777" stroke-width="1"/>
<line x1="1048.6" y1="463.4" x2="1054.6" y2="463.4" stroke="#222" stroke-width="1"/>
<line x1="1051.6" y1="489.2" x2="1054.6" y2="489.2" stroke="#777" stroke-width="1"/>
<line x1="1048.6" y1="514.4" x2="1054.6" y2="514.4" stroke="#222" stroke-width="1"/>
<line x1="1051.6" y1="540.2" x2="1054.6" y2="540.2" stroke="#777" stroke-width="1"/>
<line x1="1048.6" y1="565.8" x2="1054.6" y2="565.8" stroke="#222" stroke-width="1"/>
<line x1="1051.6" y1="591.3" x2="1054.6" y2="591.3" stroke="#777" stroke-width="1"/>
<text x="749.0" y="413.2" font-size="48.7" fill="#ff0000" class="rg" textLength="147.6" lengthAdjust="spacingAndGlyphs">glucose</text>
<rect x="932.3" y="375.5" width="106.2" height="54.1" fill="#fff" stroke="#666" stroke-width="1"/>
<line x1="937.6" y1="391.8" x2="968.3" y2="391.8" stroke="#ff0000" stroke-width="3.2" stroke-linecap="round"/>
<line x1="937.6" y1="419.5" x2="968.3" y2="419.5" stroke="#00ff00" stroke-width="3.2" stroke-linecap="round"/>
<text x="975.0" y="396.8" font-size="22" class="bd">before</text>
<text x="975.0" y="424.3" font-size="22" class="bd">after</text>
<text transform="translate(631.6,608.6) rotate(-90)" font-size="22" class="bd" textLength="215.4" lengthAdjust="spacingAndGlyphs">Raman intensity (a.u.)</text>
<text x="782.6" y="670.2" font-size="22" class="bd" textLength="195.5" lengthAdjust="spacingAndGlyphs">Wavenumber <tspan class="rg" font-weight="normal">(</tspan><tspan font-size="20.5">cm</tspan><tspan font-size="19" dy="-8">-1</tspan><tspan class="rg" font-weight="normal" dy="8">)</tspan></text>
</svg>
</body>
</html>
